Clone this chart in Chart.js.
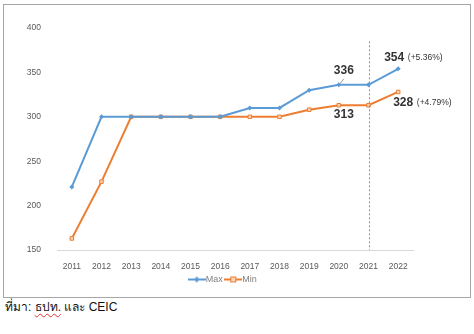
<!DOCTYPE html>
<html>
<head>
<meta charset="utf-8">
<script src="https://cdn.jsdelivr.net/npm/chart.js@4"></script>
<style>
  body { margin: 0; background: #fff; width: 474px; height: 334px; position: relative; overflow: hidden; }
  #box { position: absolute; left: 3px; top: 4px; width: 466px; height: 292px; border: 1px solid #a6a6a6; }
  #note { position: absolute; left: 5px; top: 297px; font-family: "Liberation Sans", "Noto Sans", sans-serif; font-size: 12px; color: #111; }
  #note span { text-decoration: underline wavy #e03030; text-decoration-thickness: 1px; text-underline-offset: 2px; }
</style>
</head>
<body>
<div id="box"><canvas id="chart"></canvas></div>
<div id="note">ที่มา: <span>ธปท.</span> และ CEIC</div>
<script>
let years = ["2011", "2012", "2013", "2014", "2015", "2016", "2017", "2018", "2019", "2020", "2021", "2022"];
let max_data = [221, 300, 300, 300, 300, 300, 310, 310, 330, 336, 336, 354];
let min_data = [163, 227, 300, 300, 300, 300, 300, 300, 308, 313, 313, 328];
let y_ticks = [150, 200, 250, 300, 350, 400];

// [series, year index, text, dx, dy, bold]
let notes = [
    ["max", 9, "336", 5, -14, true],
    ["max", 11, "354", -4, -11, true],
    ["max", 11, "(+5.36%)", 27, -11, false],
    ["min", 9, "313", 5, 9, true],
    ["min", 11, "328", 5, 11, true],
    ["min", 11, "(+4.79%)", 36, 11, false],
];
let divider_year = "2021";

const blue = '#5b9bd5';
const orange = '#ed7d31';

//small legend icon: line with marker
function legendIcon(color, style) {
    let c = document.createElement('canvas');
    c.width = 18; c.height = 8;
    let g = c.getContext('2d');
    g.strokeStyle = color;
    g.lineWidth = 2;
    g.beginPath(); g.moveTo(0, 4); g.lineTo(18, 4); g.stroke();
    if (style == 'rect') {
        g.fillStyle = '#fbd5b5';
        g.lineWidth = 1;
        g.fillRect(6.5, 1.5, 5, 5);
        g.strokeRect(6.5, 1.5, 5, 5);
    } else {
        g.fillStyle = color;
        g.beginPath(); g.moveTo(9, 1); g.lineTo(12, 4); g.lineTo(9, 7); g.lineTo(6, 4); g.closePath(); g.fill();
    }
    return c;
}

const notesPlugin = {
    id: 'notes',
    afterLayout(chart) {
        // legend sits a bit right of the plot centre
        chart.legend.left += 16;
        chart.legend.right += 16;
    },
    afterDatasetsDraw(chart) {
        let ctx = chart.ctx;
        let x = chart.scales.x, y = chart.scales.y;
        ctx.save();
        // dotted divider
        let dx = x.getPixelForValue(years.indexOf(divider_year));
        ctx.strokeStyle = '#909090';
        ctx.lineWidth = 1;
        ctx.setLineDash([2, 2]);
        ctx.beginPath();
        ctx.moveTo(Math.round(dx) + 0.5, y.getPixelForValue(385));
        ctx.lineTo(Math.round(dx) + 0.5, y.getPixelForValue(150));
        ctx.stroke();
        ctx.setLineDash([]);

        ctx.textAlign = 'center';
        ctx.textBaseline = 'middle';
        ctx.fillStyle = '#333';
        for (let n of notes) {
            let vals = n[0] == 'max' ? max_data : min_data;
            let px = x.getPixelForValue(n[1]);
            let py = y.getPixelForValue(vals[n[1]]);
            ctx.font = n[5] ? 'bold 12px "Liberation Sans", sans-serif' : '8.5px "Liberation Sans", sans-serif';
            ctx.fillText(n[2], px + n[3], py + n[4]);
        }
        // leader for 336
        let lx = x.getPixelForValue(9), ly = y.getPixelForValue(max_data[9]);
        ctx.strokeStyle = '#999';
        ctx.beginPath(); ctx.moveTo(lx + 1, ly - 1); ctx.lineTo(lx + 5, ly - 6); ctx.stroke();
        ctx.restore();
    }
};

let ctx = document.getElementById('chart').getContext('2d');

new Chart(ctx, {
    type: 'line',
    data: {
        labels: years,
        datasets: [{
            label: 'Max',
            data: max_data,
            borderColor: blue,
            backgroundColor: blue,
            borderWidth: 2,
            pointStyle: 'rectRot',
            pointRadius: 2.5,
            pointBorderWidth: 0,
            tension: 0,
        }, {
            label: 'Min',
            data: min_data,
            borderColor: orange,
            backgroundColor: '#fbd5b5',
            borderWidth: 2,
            pointStyle: 'rect',
            pointRadius: 2.5,
            pointBorderWidth: 1,
            tension: 0,
        }]
    },
    options: {
        responsive: true,
        maintainAspectRatio: false,
        animation: false,
        layout: { padding: { top: 23, right: 57, bottom: 3, left: 0 } },
        plugins: {
            tooltip: { enabled: false },
            legend: {
                position: 'bottom',
                labels: {
                    font: { size: 9, family: '"Liberation Sans", sans-serif' },
                    color: '#7f7f7f',
                    padding: 6,
                    usePointStyle: true,
                    generateLabels: (chart) => [
                        { text: 'Max', pointStyle: legendIcon(blue, 'rot'), datasetIndex: 0, fontColor: '#7f7f7f', lineWidth: 0 },
                        { text: 'Min', pointStyle: legendIcon(orange, 'rect'), datasetIndex: 1, fontColor: '#7f7f7f', lineWidth: 0 },
                    ]
                }
            }
        },
        scales: {
            x: {
                offset: true,
                grid: { display: false },
                border: { color: '#d9d9d9' },
                ticks: { color: '#595959', font: { size: 8.5, family: '"Liberation Sans", sans-serif' }, maxRotation: 0, autoSkip: false, padding: 4 },
                afterFit: (s) => { s.height = 19; }
            },
            y: {
                min: 150,
                max: 400,
                grid: { display: false },
                border: { display: false },
                afterBuildTicks: (s) => { s.ticks = y_ticks.map(v => ({ value: v })); },
                ticks: { color: '#595959', font: { size: 8.5, family: '"Liberation Sans", sans-serif' }, padding: 8 },
                afterFit: (s) => { s.width = 53; }
            }
        }
    },
    plugins: [notesPlugin]
});
</script>
</body>
</html>
